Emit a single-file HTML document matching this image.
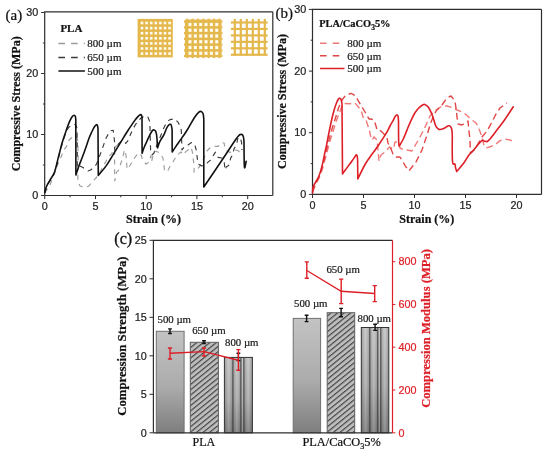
<!DOCTYPE html><html><head><meta charset='utf-8'><style>html,body{margin:0;padding:0;background:#fff}svg{display:block;filter:blur(0.3px)}</style></head><body>
<svg width="550" height="456" viewBox="0 0 550 456">
<rect width="550" height="456" fill="#fff"/>
<path d="M44.7,195.5 L44.7,11.8 L272.8,11.8" fill="none" stroke="#2e2e2e" stroke-width="1.2"/>
<path d="M44.7,195.5 L272.8,195.5" fill="none" stroke="#2e2e2e" stroke-width="1.2"/>
<path d="M272.8,11.8 L272.8,195.5" fill="none" stroke="#2e2e2e" stroke-width="1.2"/>
<line x1="41.1" y1="195.5" x2="44.7" y2="195.5" stroke="#2e2e2e" stroke-width="1"/>
<text stroke="#222" stroke-width="0.22" x="38.3" y="199.2" font-family="Liberation Sans, sans-serif" font-size="10.8" text-anchor="end" fill="#222">0</text>
<line x1="42.900000000000006" y1="165.0" x2="44.7" y2="165.0" stroke="#2e2e2e" stroke-width="1"/>
<line x1="41.1" y1="134.5" x2="44.7" y2="134.5" stroke="#2e2e2e" stroke-width="1"/>
<text stroke="#222" stroke-width="0.22" x="38.3" y="138.2" font-family="Liberation Sans, sans-serif" font-size="10.8" text-anchor="end" fill="#222">10</text>
<line x1="42.900000000000006" y1="104.0" x2="44.7" y2="104.0" stroke="#2e2e2e" stroke-width="1"/>
<line x1="41.1" y1="73.5" x2="44.7" y2="73.5" stroke="#2e2e2e" stroke-width="1"/>
<text stroke="#222" stroke-width="0.22" x="38.3" y="77.2" font-family="Liberation Sans, sans-serif" font-size="10.8" text-anchor="end" fill="#222">20</text>
<line x1="42.900000000000006" y1="43.0" x2="44.7" y2="43.0" stroke="#2e2e2e" stroke-width="1"/>
<line x1="41.1" y1="12.5" x2="44.7" y2="12.5" stroke="#2e2e2e" stroke-width="1"/>
<text stroke="#222" stroke-width="0.22" x="38.3" y="16.2" font-family="Liberation Sans, sans-serif" font-size="10.8" text-anchor="end" fill="#222">30</text>
<line x1="44.7" y1="195.5" x2="44.7" y2="199.1" stroke="#2e2e2e" stroke-width="1"/>
<text stroke="#222" stroke-width="0.22" x="44.7" y="210" font-family="Liberation Sans, sans-serif" font-size="10.8" text-anchor="middle" fill="#222">0</text>
<line x1="70.1" y1="195.5" x2="70.1" y2="197.3" stroke="#2e2e2e" stroke-width="1"/>
<line x1="95.5" y1="195.5" x2="95.5" y2="199.1" stroke="#2e2e2e" stroke-width="1"/>
<text stroke="#222" stroke-width="0.22" x="95.5" y="210" font-family="Liberation Sans, sans-serif" font-size="10.8" text-anchor="middle" fill="#222">5</text>
<line x1="120.8" y1="195.5" x2="120.8" y2="197.3" stroke="#2e2e2e" stroke-width="1"/>
<line x1="146.2" y1="195.5" x2="146.2" y2="199.1" stroke="#2e2e2e" stroke-width="1"/>
<text stroke="#222" stroke-width="0.22" x="146.2" y="210" font-family="Liberation Sans, sans-serif" font-size="10.8" text-anchor="middle" fill="#222">10</text>
<line x1="171.6" y1="195.5" x2="171.6" y2="197.3" stroke="#2e2e2e" stroke-width="1"/>
<line x1="196.9" y1="195.5" x2="196.9" y2="199.1" stroke="#2e2e2e" stroke-width="1"/>
<text stroke="#222" stroke-width="0.22" x="196.9" y="210" font-family="Liberation Sans, sans-serif" font-size="10.8" text-anchor="middle" fill="#222">15</text>
<line x1="222.3" y1="195.5" x2="222.3" y2="197.3" stroke="#2e2e2e" stroke-width="1"/>
<line x1="247.7" y1="195.5" x2="247.7" y2="199.1" stroke="#2e2e2e" stroke-width="1"/>
<text stroke="#222" stroke-width="0.22" x="247.7" y="210" font-family="Liberation Sans, sans-serif" font-size="10.8" text-anchor="middle" fill="#222">20</text>
<text stroke="#111" stroke-width="0.22" x="153.5" y="223.4" font-family="Liberation Serif, serif" font-size="12" font-weight="bold" text-anchor="middle" fill="#111">Strain (%)</text>
<text stroke="#111" stroke-width="0.22" transform="translate(20.3,103.8) rotate(-90)" font-family="Liberation Serif, serif" font-size="12" font-weight="bold" text-anchor="middle" fill="#111">Compressive Stress (MPa)</text>
<text stroke="#111" stroke-width="0.22" x="5.5" y="20.4" font-family="Liberation Serif, serif" font-size="15" fill="#111">(a)</text>
<path d="M312.5,194.4 L312.5,9.4 L541.5,9.4" fill="none" stroke="#2e2e2e" stroke-width="1.2"/>
<path d="M312.5,194.4 L541.5,194.4" fill="none" stroke="#2e2e2e" stroke-width="1.2"/>
<path d="M541.5,9.4 L541.5,194.4" fill="none" stroke="#2e2e2e" stroke-width="1.2"/>
<line x1="308.9" y1="194.4" x2="312.5" y2="194.4" stroke="#2e2e2e" stroke-width="1"/>
<text stroke="#222" stroke-width="0.22" x="306.2" y="198.1" font-family="Liberation Sans, sans-serif" font-size="10.8" text-anchor="end" fill="#222">0</text>
<line x1="310.7" y1="163.6" x2="312.5" y2="163.6" stroke="#2e2e2e" stroke-width="1"/>
<line x1="308.9" y1="132.7" x2="312.5" y2="132.7" stroke="#2e2e2e" stroke-width="1"/>
<text stroke="#222" stroke-width="0.22" x="306.2" y="136.4" font-family="Liberation Sans, sans-serif" font-size="10.8" text-anchor="end" fill="#222">10</text>
<line x1="310.7" y1="101.9" x2="312.5" y2="101.9" stroke="#2e2e2e" stroke-width="1"/>
<line x1="308.9" y1="71.1" x2="312.5" y2="71.1" stroke="#2e2e2e" stroke-width="1"/>
<text stroke="#222" stroke-width="0.22" x="306.2" y="74.8" font-family="Liberation Sans, sans-serif" font-size="10.8" text-anchor="end" fill="#222">20</text>
<line x1="310.7" y1="40.2" x2="312.5" y2="40.2" stroke="#2e2e2e" stroke-width="1"/>
<line x1="308.9" y1="9.4" x2="312.5" y2="9.4" stroke="#2e2e2e" stroke-width="1"/>
<text stroke="#222" stroke-width="0.22" x="306.2" y="13.1" font-family="Liberation Sans, sans-serif" font-size="10.8" text-anchor="end" fill="#222">30</text>
<line x1="312.5" y1="194.4" x2="312.5" y2="198.0" stroke="#2e2e2e" stroke-width="1"/>
<text stroke="#222" stroke-width="0.22" x="312.5" y="208.9" font-family="Liberation Sans, sans-serif" font-size="10.8" text-anchor="middle" fill="#222">0</text>
<line x1="363.5" y1="194.4" x2="363.5" y2="198.0" stroke="#2e2e2e" stroke-width="1"/>
<text stroke="#222" stroke-width="0.22" x="363.5" y="208.9" font-family="Liberation Sans, sans-serif" font-size="10.8" text-anchor="middle" fill="#222">5</text>
<line x1="414.5" y1="194.4" x2="414.5" y2="198.0" stroke="#2e2e2e" stroke-width="1"/>
<text stroke="#222" stroke-width="0.22" x="414.5" y="208.9" font-family="Liberation Sans, sans-serif" font-size="10.8" text-anchor="middle" fill="#222">10</text>
<line x1="465.5" y1="194.4" x2="465.5" y2="198.0" stroke="#2e2e2e" stroke-width="1"/>
<text stroke="#222" stroke-width="0.22" x="465.5" y="208.9" font-family="Liberation Sans, sans-serif" font-size="10.8" text-anchor="middle" fill="#222">15</text>
<line x1="516.5" y1="194.4" x2="516.5" y2="198.0" stroke="#2e2e2e" stroke-width="1"/>
<text stroke="#222" stroke-width="0.22" x="516.5" y="208.9" font-family="Liberation Sans, sans-serif" font-size="10.8" text-anchor="middle" fill="#222">20</text>
<text stroke="#111" stroke-width="0.22" x="426.8" y="222.7" font-family="Liberation Serif, serif" font-size="12" font-weight="bold" text-anchor="middle" fill="#111">Strain (%)</text>
<text stroke="#111" stroke-width="0.22" transform="translate(285.5,101.5) rotate(-90)" font-family="Liberation Serif, serif" font-size="12" font-weight="bold" text-anchor="middle" fill="#111">Compressive Stress (MPa)</text>
<text stroke="#111" stroke-width="0.22" x="275.6" y="18.2" font-family="Liberation Serif, serif" font-size="15" fill="#111">(b)</text>
<line x1="58.4" y1="43.4" x2="84.9" y2="43.4" stroke="#9c9c9c" stroke-width="1.5" stroke-dasharray="6.6,6.1"/>
<line x1="58.4" y1="57.5" x2="84.9" y2="57.5" stroke="#3a3a3a" stroke-width="1.5" stroke-dasharray="6.6,6.1"/>
<line x1="58.4" y1="71.0" x2="84.9" y2="71.0" stroke="#111" stroke-width="1.5"/>
<text stroke="#1a1a1a" stroke-width="0.22" x="87.3" y="47.2" font-family="Liberation Serif, serif" font-size="11" fill="#1a1a1a">800 µm</text>
<text stroke="#1a1a1a" stroke-width="0.22" x="87.3" y="61.3" font-family="Liberation Serif, serif" font-size="11" fill="#1a1a1a">650 µm</text>
<text stroke="#1a1a1a" stroke-width="0.22" x="87.3" y="74.8" font-family="Liberation Serif, serif" font-size="11" fill="#1a1a1a">500 µm</text>
<text stroke="#111" stroke-width="0.22" x="60.4" y="31.7" font-family="Liberation Serif, serif" font-size="11" font-weight="bold" fill="#111" textLength="22" lengthAdjust="spacingAndGlyphs">PLA</text>
<line x1="320" y1="43.3" x2="344.5" y2="43.3" stroke="#f07a7a" stroke-width="1.5" stroke-dasharray="6.6,6.1"/>
<line x1="320" y1="55.8" x2="344.5" y2="55.8" stroke="#e04646" stroke-width="1.5" stroke-dasharray="6.6,6.1"/>
<line x1="320" y1="68.5" x2="344.5" y2="68.5" stroke="#dd1f27" stroke-width="1.5"/>
<text stroke="#1a1a1a" stroke-width="0.22" x="347.2" y="47.1" font-family="Liberation Serif, serif" font-size="11" fill="#1a1a1a">800 µm</text>
<text stroke="#1a1a1a" stroke-width="0.22" x="347.2" y="59.6" font-family="Liberation Serif, serif" font-size="11" fill="#1a1a1a">650 µm</text>
<text stroke="#1a1a1a" stroke-width="0.22" x="347.2" y="72.3" font-family="Liberation Serif, serif" font-size="11" fill="#1a1a1a">500 µm</text>
<text stroke="#111" stroke-width="0.22" x="319.2" y="27.3" font-family="Liberation Serif, serif" font-size="10.4" font-weight="bold" fill="#111">PLA/CaCO<tspan font-size="7.5" dy="2.5">3</tspan><tspan dy="-2.5">5%</tspan></text>
<rect x="137.6" y="18.9" width="35.2" height="38.5" fill="#e4b84c"/>
<rect x="140.70" y="21.70" width="2.6" height="2.6" fill="#fffcf2"/>
<rect x="140.70" y="26.80" width="2.6" height="2.6" fill="#fffcf2"/>
<rect x="140.70" y="31.90" width="2.6" height="2.6" fill="#fffcf2"/>
<rect x="140.70" y="37.00" width="2.6" height="2.6" fill="#fffcf2"/>
<rect x="140.70" y="42.10" width="2.6" height="2.6" fill="#fffcf2"/>
<rect x="140.70" y="47.20" width="2.6" height="2.6" fill="#fffcf2"/>
<rect x="140.70" y="52.30" width="2.6" height="2.6" fill="#fffcf2"/>
<rect x="145.30" y="21.70" width="2.6" height="2.6" fill="#fffcf2"/>
<rect x="145.30" y="26.80" width="2.6" height="2.6" fill="#fffcf2"/>
<rect x="145.30" y="31.90" width="2.6" height="2.6" fill="#fffcf2"/>
<rect x="145.30" y="37.00" width="2.6" height="2.6" fill="#fffcf2"/>
<rect x="145.30" y="42.10" width="2.6" height="2.6" fill="#fffcf2"/>
<rect x="145.30" y="47.20" width="2.6" height="2.6" fill="#fffcf2"/>
<rect x="145.30" y="52.30" width="2.6" height="2.6" fill="#fffcf2"/>
<rect x="149.90" y="21.70" width="2.6" height="2.6" fill="#fffcf2"/>
<rect x="149.90" y="26.80" width="2.6" height="2.6" fill="#fffcf2"/>
<rect x="149.90" y="31.90" width="2.6" height="2.6" fill="#fffcf2"/>
<rect x="149.90" y="37.00" width="2.6" height="2.6" fill="#fffcf2"/>
<rect x="149.90" y="42.10" width="2.6" height="2.6" fill="#fffcf2"/>
<rect x="149.90" y="47.20" width="2.6" height="2.6" fill="#fffcf2"/>
<rect x="149.90" y="52.30" width="2.6" height="2.6" fill="#fffcf2"/>
<rect x="154.50" y="21.70" width="2.6" height="2.6" fill="#fffcf2"/>
<rect x="154.50" y="26.80" width="2.6" height="2.6" fill="#fffcf2"/>
<rect x="154.50" y="31.90" width="2.6" height="2.6" fill="#fffcf2"/>
<rect x="154.50" y="37.00" width="2.6" height="2.6" fill="#fffcf2"/>
<rect x="154.50" y="42.10" width="2.6" height="2.6" fill="#fffcf2"/>
<rect x="154.50" y="47.20" width="2.6" height="2.6" fill="#fffcf2"/>
<rect x="154.50" y="52.30" width="2.6" height="2.6" fill="#fffcf2"/>
<rect x="159.10" y="21.70" width="2.6" height="2.6" fill="#fffcf2"/>
<rect x="159.10" y="26.80" width="2.6" height="2.6" fill="#fffcf2"/>
<rect x="159.10" y="31.90" width="2.6" height="2.6" fill="#fffcf2"/>
<rect x="159.10" y="37.00" width="2.6" height="2.6" fill="#fffcf2"/>
<rect x="159.10" y="42.10" width="2.6" height="2.6" fill="#fffcf2"/>
<rect x="159.10" y="47.20" width="2.6" height="2.6" fill="#fffcf2"/>
<rect x="159.10" y="52.30" width="2.6" height="2.6" fill="#fffcf2"/>
<rect x="163.70" y="21.70" width="2.6" height="2.6" fill="#fffcf2"/>
<rect x="163.70" y="26.80" width="2.6" height="2.6" fill="#fffcf2"/>
<rect x="163.70" y="31.90" width="2.6" height="2.6" fill="#fffcf2"/>
<rect x="163.70" y="37.00" width="2.6" height="2.6" fill="#fffcf2"/>
<rect x="163.70" y="42.10" width="2.6" height="2.6" fill="#fffcf2"/>
<rect x="163.70" y="47.20" width="2.6" height="2.6" fill="#fffcf2"/>
<rect x="163.70" y="52.30" width="2.6" height="2.6" fill="#fffcf2"/>
<rect x="168.30" y="21.70" width="2.6" height="2.6" fill="#fffcf2"/>
<rect x="168.30" y="26.80" width="2.6" height="2.6" fill="#fffcf2"/>
<rect x="168.30" y="31.90" width="2.6" height="2.6" fill="#fffcf2"/>
<rect x="168.30" y="37.00" width="2.6" height="2.6" fill="#fffcf2"/>
<rect x="168.30" y="42.10" width="2.6" height="2.6" fill="#fffcf2"/>
<rect x="168.30" y="47.20" width="2.6" height="2.6" fill="#fffcf2"/>
<rect x="168.30" y="52.30" width="2.6" height="2.6" fill="#fffcf2"/>
<rect x="184.9" y="19.5" width="36.7" height="37.7" fill="#e4b84c"/>
<rect x="188.50" y="22.90" width="3.0" height="3.2" fill="#fffcf2"/>
<rect x="188.50" y="28.65" width="3.0" height="3.2" fill="#fffcf2"/>
<rect x="188.50" y="34.40" width="3.0" height="3.2" fill="#fffcf2"/>
<rect x="188.50" y="40.15" width="3.0" height="3.2" fill="#fffcf2"/>
<rect x="188.50" y="45.90" width="3.0" height="3.2" fill="#fffcf2"/>
<rect x="188.50" y="51.65" width="3.0" height="3.2" fill="#fffcf2"/>
<rect x="193.85" y="22.90" width="3.0" height="3.2" fill="#fffcf2"/>
<rect x="193.85" y="28.65" width="3.0" height="3.2" fill="#fffcf2"/>
<rect x="193.85" y="34.40" width="3.0" height="3.2" fill="#fffcf2"/>
<rect x="193.85" y="40.15" width="3.0" height="3.2" fill="#fffcf2"/>
<rect x="193.85" y="45.90" width="3.0" height="3.2" fill="#fffcf2"/>
<rect x="193.85" y="51.65" width="3.0" height="3.2" fill="#fffcf2"/>
<rect x="199.20" y="22.90" width="3.0" height="3.2" fill="#fffcf2"/>
<rect x="199.20" y="28.65" width="3.0" height="3.2" fill="#fffcf2"/>
<rect x="199.20" y="34.40" width="3.0" height="3.2" fill="#fffcf2"/>
<rect x="199.20" y="40.15" width="3.0" height="3.2" fill="#fffcf2"/>
<rect x="199.20" y="45.90" width="3.0" height="3.2" fill="#fffcf2"/>
<rect x="199.20" y="51.65" width="3.0" height="3.2" fill="#fffcf2"/>
<rect x="204.55" y="22.90" width="3.0" height="3.2" fill="#fffcf2"/>
<rect x="204.55" y="28.65" width="3.0" height="3.2" fill="#fffcf2"/>
<rect x="204.55" y="34.40" width="3.0" height="3.2" fill="#fffcf2"/>
<rect x="204.55" y="40.15" width="3.0" height="3.2" fill="#fffcf2"/>
<rect x="204.55" y="45.90" width="3.0" height="3.2" fill="#fffcf2"/>
<rect x="204.55" y="51.65" width="3.0" height="3.2" fill="#fffcf2"/>
<rect x="209.90" y="22.90" width="3.0" height="3.2" fill="#fffcf2"/>
<rect x="209.90" y="28.65" width="3.0" height="3.2" fill="#fffcf2"/>
<rect x="209.90" y="34.40" width="3.0" height="3.2" fill="#fffcf2"/>
<rect x="209.90" y="40.15" width="3.0" height="3.2" fill="#fffcf2"/>
<rect x="209.90" y="45.90" width="3.0" height="3.2" fill="#fffcf2"/>
<rect x="209.90" y="51.65" width="3.0" height="3.2" fill="#fffcf2"/>
<rect x="215.25" y="22.90" width="3.0" height="3.2" fill="#fffcf2"/>
<rect x="215.25" y="28.65" width="3.0" height="3.2" fill="#fffcf2"/>
<rect x="215.25" y="34.40" width="3.0" height="3.2" fill="#fffcf2"/>
<rect x="215.25" y="40.15" width="3.0" height="3.2" fill="#fffcf2"/>
<rect x="215.25" y="45.90" width="3.0" height="3.2" fill="#fffcf2"/>
<rect x="215.25" y="51.65" width="3.0" height="3.2" fill="#fffcf2"/>
<rect x="186.22" y="18.6" width="2.2" height="1.2" fill="#e4b84c"/>
<rect x="186.22" y="56.9" width="2.2" height="1.2" fill="#e4b84c"/>
<rect x="191.58" y="18.6" width="2.2" height="1.2" fill="#e4b84c"/>
<rect x="191.58" y="56.9" width="2.2" height="1.2" fill="#e4b84c"/>
<rect x="196.93" y="18.6" width="2.2" height="1.2" fill="#e4b84c"/>
<rect x="196.93" y="56.9" width="2.2" height="1.2" fill="#e4b84c"/>
<rect x="202.28" y="18.6" width="2.2" height="1.2" fill="#e4b84c"/>
<rect x="202.28" y="56.9" width="2.2" height="1.2" fill="#e4b84c"/>
<rect x="207.62" y="18.6" width="2.2" height="1.2" fill="#e4b84c"/>
<rect x="207.62" y="56.9" width="2.2" height="1.2" fill="#e4b84c"/>
<rect x="212.97" y="18.6" width="2.2" height="1.2" fill="#e4b84c"/>
<rect x="212.97" y="56.9" width="2.2" height="1.2" fill="#e4b84c"/>
<rect x="218.33" y="18.6" width="2.2" height="1.2" fill="#e4b84c"/>
<rect x="218.33" y="56.9" width="2.2" height="1.2" fill="#e4b84c"/>
<rect x="184.0" y="20.52" width="1.2" height="2.2" fill="#e4b84c"/>
<rect x="221.3" y="20.52" width="1.2" height="2.2" fill="#e4b84c"/>
<rect x="184.0" y="26.27" width="1.2" height="2.2" fill="#e4b84c"/>
<rect x="221.3" y="26.27" width="1.2" height="2.2" fill="#e4b84c"/>
<rect x="184.0" y="32.02" width="1.2" height="2.2" fill="#e4b84c"/>
<rect x="221.3" y="32.02" width="1.2" height="2.2" fill="#e4b84c"/>
<rect x="184.0" y="37.77" width="1.2" height="2.2" fill="#e4b84c"/>
<rect x="221.3" y="37.77" width="1.2" height="2.2" fill="#e4b84c"/>
<rect x="184.0" y="43.52" width="1.2" height="2.2" fill="#e4b84c"/>
<rect x="221.3" y="43.52" width="1.2" height="2.2" fill="#e4b84c"/>
<rect x="184.0" y="49.27" width="1.2" height="2.2" fill="#e4b84c"/>
<rect x="221.3" y="49.27" width="1.2" height="2.2" fill="#e4b84c"/>
<rect x="184.0" y="55.02" width="1.2" height="2.2" fill="#e4b84c"/>
<rect x="221.3" y="55.02" width="1.2" height="2.2" fill="#e4b84c"/>
<rect x="233.70" y="18.9" width="2.2" height="36.7" fill="#e4b84c"/>
<rect x="239.70" y="18.9" width="2.2" height="36.7" fill="#e4b84c"/>
<rect x="245.70" y="18.9" width="2.2" height="36.7" fill="#e4b84c"/>
<rect x="251.70" y="18.9" width="2.2" height="36.7" fill="#e4b84c"/>
<rect x="257.70" y="18.9" width="2.2" height="36.7" fill="#e4b84c"/>
<rect x="263.70" y="18.9" width="2.2" height="36.7" fill="#e4b84c"/>
<rect x="230.9" y="21.40" width="36.7" height="2.2" fill="#e4b84c"/>
<rect x="230.9" y="27.85" width="36.7" height="2.2" fill="#e4b84c"/>
<rect x="230.9" y="34.30" width="36.7" height="2.2" fill="#e4b84c"/>
<rect x="230.9" y="40.75" width="36.7" height="2.2" fill="#e4b84c"/>
<rect x="230.9" y="47.20" width="36.7" height="2.2" fill="#e4b84c"/>
<rect x="230.9" y="53.65" width="36.7" height="2.2" fill="#e4b84c"/>
<defs><linearGradient id="gv" x1="0" y1="0" x2="0" y2="1"><stop offset="0" stop-color="#c3c3c3"/><stop offset="0.55" stop-color="#ababab"/><stop offset="1" stop-color="#7e7e7e"/></linearGradient><linearGradient id="gh" x1="0" y1="0" x2="1" y2="0"><stop offset="0" stop-color="#000" stop-opacity="0.18"/><stop offset="0.5" stop-color="#fff" stop-opacity="0.15"/><stop offset="1" stop-color="#000" stop-opacity="0.18"/></linearGradient><pattern id="hatch" patternUnits="userSpaceOnUse" width="20" height="4.1" patternTransform="translate(190,400) rotate(-39)"><rect width="20" height="4.1" fill="#bdbdbd"/><line x1="0" y1="0.6" x2="20" y2="0.6" stroke="#3c3c3c" stroke-width="1.1"/></pattern></defs>
<rect x="156.3" y="331.3" width="27.8" height="101.5" fill="url(#gv)" stroke="#707070" stroke-width="1"/>
<rect x="190.3" y="342.3" width="28.1" height="90.5" fill="url(#hatch)" stroke="#606060" stroke-width="1"/>
<rect x="224.4" y="357.4" width="28.0" height="75.4" fill="url(#gv)"/>
<rect x="224.4" y="357.4" width="8.5" height="75.4" fill="url(#gh)"/>
<rect x="232.9" y="357.4" width="8.0" height="75.4" fill="url(#gh)"/>
<rect x="240.9" y="357.4" width="3.0" height="75.4" fill="url(#gh)"/>
<rect x="243.9" y="357.4" width="8.5" height="75.4" fill="url(#gh)"/>
<line x1="232.9" y1="357.4" x2="232.9" y2="432.8" stroke="#3a3a3a" stroke-width="0.9"/>
<line x1="240.9" y1="357.4" x2="240.9" y2="432.8" stroke="#3a3a3a" stroke-width="0.9"/>
<line x1="243.9" y1="357.4" x2="243.9" y2="432.8" stroke="#3a3a3a" stroke-width="0.9"/>
<rect x="224.4" y="357.4" width="28.0" height="75.4" fill="none" stroke="#333" stroke-width="1"/>
<rect x="293.2" y="318.4" width="27.4" height="114.4" fill="url(#gv)" stroke="#707070" stroke-width="1"/>
<rect x="327.2" y="312.7" width="27.5" height="120.1" fill="url(#hatch)" stroke="#606060" stroke-width="1"/>
<rect x="361.3" y="327.5" width="27.5" height="105.3" fill="url(#gv)"/>
<rect x="361.3" y="327.5" width="8.5" height="105.3" fill="url(#gh)"/>
<rect x="369.8" y="327.5" width="8.0" height="105.3" fill="url(#gh)"/>
<rect x="377.8" y="327.5" width="3.0" height="105.3" fill="url(#gh)"/>
<rect x="380.8" y="327.5" width="8.0" height="105.3" fill="url(#gh)"/>
<line x1="369.8" y1="327.5" x2="369.8" y2="432.8" stroke="#3a3a3a" stroke-width="0.9"/>
<line x1="377.8" y1="327.5" x2="377.8" y2="432.8" stroke="#3a3a3a" stroke-width="0.9"/>
<line x1="380.8" y1="327.5" x2="380.8" y2="432.8" stroke="#3a3a3a" stroke-width="0.9"/>
<rect x="361.3" y="327.5" width="27.5" height="105.3" fill="none" stroke="#333" stroke-width="1"/>
<path d="M170,328.9 L170,333.5 M168.1,328.9 L171.9,328.9 M168.1,333.5 L171.9,333.5" stroke="#111" stroke-width="1.4" fill="none"/>
<path d="M204,340.8 L204,343.5 M202.1,340.8 L205.9,340.8 M202.1,343.5 L205.9,343.5" stroke="#111" stroke-width="1.4" fill="none"/>
<path d="M238.4,353.3 L238.4,360.6 M236.5,353.3 L240.3,353.3 M236.5,360.6 L240.3,360.6" stroke="#111" stroke-width="1.4" fill="none"/>
<path d="M306.6,315.3 L306.6,321.6 M304.70000000000005,315.3 L308.5,315.3 M304.70000000000005,321.6 L308.5,321.6" stroke="#111" stroke-width="1.4" fill="none"/>
<path d="M341.1,308.4 L341.1,316.8 M339.20000000000005,308.4 L343.0,308.4 M339.20000000000005,316.8 L343.0,316.8" stroke="#111" stroke-width="1.4" fill="none"/>
<path d="M375.1,324.3 L375.1,330.4 M373.20000000000005,324.3 L377.0,324.3 M373.20000000000005,330.4 L377.0,330.4" stroke="#111" stroke-width="1.4" fill="none"/>
<polyline points="170.0,353.3 204.0,351.6 238.4,360.2" fill="none" stroke="#dd1f27" stroke-width="1.4"/>
<polyline points="306.8,270.5 341.2,291.3 374.7,293.5" fill="none" stroke="#dd1f27" stroke-width="1.4"/>
<path d="M170,348 L170,359 M167.9,348 L172.1,348 M167.9,359 L172.1,359" stroke="#dd1f27" stroke-width="1.4" fill="none"/>
<path d="M204,348 L204,356 M201.9,348 L206.1,348 M201.9,356 L206.1,356" stroke="#dd1f27" stroke-width="1.4" fill="none"/>
<path d="M238.4,349.6 L238.4,370.3 M236.3,349.6 L240.5,349.6 M236.3,370.3 L240.5,370.3" stroke="#dd1f27" stroke-width="1.4" fill="none"/>
<path d="M306.8,261.9 L306.8,278.2 M304.7,261.9 L308.90000000000003,261.9 M304.7,278.2 L308.90000000000003,278.2" stroke="#dd1f27" stroke-width="1.4" fill="none"/>
<path d="M341.2,279.1 L341.2,303.6 M339.09999999999997,279.1 L343.3,279.1 M339.09999999999997,303.6 L343.3,303.6" stroke="#dd1f27" stroke-width="1.4" fill="none"/>
<path d="M374.7,285.6 L374.7,301.6 M372.59999999999997,285.6 L376.8,285.6 M372.59999999999997,301.6 L376.8,301.6" stroke="#dd1f27" stroke-width="1.4" fill="none"/>
<path d="M153.4,432.8 L153.4,240.3 L392.5,240.3" fill="none" stroke="#2e2e2e" stroke-width="1.2"/>
<line x1="153.4" y1="432.8" x2="392.5" y2="432.8" stroke="#2e2e2e" stroke-width="1.3"/>
<line x1="392.5" y1="240.3" x2="392.5" y2="432.8" stroke="#dd1f27" stroke-width="1.2"/>
<line x1="149.5" y1="432.8" x2="153.4" y2="432.8" stroke="#2e2e2e" stroke-width="1"/>
<text stroke="#222" stroke-width="0.22" x="146.8" y="436.5" font-family="Liberation Sans, sans-serif" font-size="10.8" text-anchor="end" fill="#222">0</text>
<line x1="149.5" y1="394.3" x2="153.4" y2="394.3" stroke="#2e2e2e" stroke-width="1"/>
<text stroke="#222" stroke-width="0.22" x="146.8" y="398.0" font-family="Liberation Sans, sans-serif" font-size="10.8" text-anchor="end" fill="#222">5</text>
<line x1="149.5" y1="355.8" x2="153.4" y2="355.8" stroke="#2e2e2e" stroke-width="1"/>
<text stroke="#222" stroke-width="0.22" x="146.8" y="359.5" font-family="Liberation Sans, sans-serif" font-size="10.8" text-anchor="end" fill="#222">10</text>
<line x1="149.5" y1="317.3" x2="153.4" y2="317.3" stroke="#2e2e2e" stroke-width="1"/>
<text stroke="#222" stroke-width="0.22" x="146.8" y="321.0" font-family="Liberation Sans, sans-serif" font-size="10.8" text-anchor="end" fill="#222">15</text>
<line x1="149.5" y1="278.8" x2="153.4" y2="278.8" stroke="#2e2e2e" stroke-width="1"/>
<text stroke="#222" stroke-width="0.22" x="146.8" y="282.5" font-family="Liberation Sans, sans-serif" font-size="10.8" text-anchor="end" fill="#222">20</text>
<line x1="149.5" y1="240.3" x2="153.4" y2="240.3" stroke="#2e2e2e" stroke-width="1"/>
<text stroke="#222" stroke-width="0.22" x="146.8" y="244.0" font-family="Liberation Sans, sans-serif" font-size="10.8" text-anchor="end" fill="#222">25</text>
<line x1="392.5" y1="432.8" x2="395.3" y2="432.8" stroke="#dd1f27" stroke-width="1"/>
<text stroke="#dd1f27" stroke-width="0.22" x="398.6" y="436.5" font-family="Liberation Sans, sans-serif" font-size="10.8" fill="#dd1f27">0</text>
<line x1="392.5" y1="390.0" x2="395.3" y2="390.0" stroke="#dd1f27" stroke-width="1"/>
<text stroke="#dd1f27" stroke-width="0.22" x="398.6" y="393.7" font-family="Liberation Sans, sans-serif" font-size="10.8" fill="#dd1f27">200</text>
<line x1="392.5" y1="347.2" x2="395.3" y2="347.2" stroke="#dd1f27" stroke-width="1"/>
<text stroke="#dd1f27" stroke-width="0.22" x="398.6" y="350.9" font-family="Liberation Sans, sans-serif" font-size="10.8" fill="#dd1f27">400</text>
<line x1="392.5" y1="304.5" x2="395.3" y2="304.5" stroke="#dd1f27" stroke-width="1"/>
<text stroke="#dd1f27" stroke-width="0.22" x="398.6" y="308.2" font-family="Liberation Sans, sans-serif" font-size="10.8" fill="#dd1f27">600</text>
<line x1="392.5" y1="261.7" x2="395.3" y2="261.7" stroke="#dd1f27" stroke-width="1"/>
<text stroke="#dd1f27" stroke-width="0.22" x="398.6" y="265.4" font-family="Liberation Sans, sans-serif" font-size="10.8" fill="#dd1f27">800</text>
<text stroke="#111" stroke-width="0.22" transform="translate(126.4,336.1) rotate(-90)" font-family="Liberation Serif, serif" font-size="12.6" font-weight="bold" text-anchor="middle" fill="#111" textLength="159.4" lengthAdjust="spacingAndGlyphs">Compression Strength (MPa)</text>
<text stroke="#dd1f27" stroke-width="0.22" transform="translate(430.2,328.4) rotate(-90)" font-family="Liberation Serif, serif" font-size="12.6" font-weight="bold" text-anchor="middle" fill="#dd1f27" textLength="158.8" lengthAdjust="spacingAndGlyphs">Compression Modulus (MPa)</text>
<text x="114.3" y="243.5" font-family="Liberation Serif, serif" font-size="16" fill="#111" stroke="#111" stroke-width="0.35" textLength="17.8" lengthAdjust="spacingAndGlyphs">(c)</text>
<text stroke="#1a1a1a" stroke-width="0.22" x="157.5" y="322.5" font-family="Liberation Serif, serif" font-size="10.8" fill="#1a1a1a">500 µm</text>
<text stroke="#1a1a1a" stroke-width="0.22" x="192.2" y="333.8" font-family="Liberation Serif, serif" font-size="10.8" fill="#1a1a1a">650 µm</text>
<text stroke="#1a1a1a" stroke-width="0.22" x="225" y="345.7" font-family="Liberation Serif, serif" font-size="10.8" fill="#1a1a1a">800 µm</text>
<text stroke="#1a1a1a" stroke-width="0.22" x="294" y="307.3" font-family="Liberation Serif, serif" font-size="10.8" fill="#1a1a1a">500 µm</text>
<text stroke="#1a1a1a" stroke-width="0.22" x="326.4" y="272.5" font-family="Liberation Serif, serif" font-size="10.8" fill="#1a1a1a">650 µm</text>
<text stroke="#1a1a1a" stroke-width="0.22" x="357.5" y="321.6" font-family="Liberation Serif, serif" font-size="10.8" fill="#1a1a1a">800 µm</text>
<text stroke="#111" stroke-width="0.22" x="192.5" y="445.7" font-family="Liberation Serif, serif" font-size="12" fill="#111">PLA</text>
<text stroke="#111" stroke-width="0.22" x="302.4" y="446" font-family="Liberation Serif, serif" font-size="12.4" fill="#111">PLA/CaCO<tspan font-size="8.2" dy="3">3</tspan><tspan dy="-3">5%</tspan></text>
<polyline points="44.8,193.0 50.0,185.0 54.7,172.5 56.0,168.7 58.6,162.3 60.0,158.5 61.4,156.5 63.4,150.6 66.4,146.6 69.3,139.7 72.0,137.5 74.3,136.2 76.8,137.0 77.8,141.0 78.2,156.5 77.8,181.0 80.0,186.0 84.4,187.3 88.7,186.2 92.0,182.0 96.4,177.5 100.0,172.0 105.0,163.0 108.6,156.6 111.9,153.3 113.9,148.0 117.8,144.7" fill="none" stroke="#9c9c9c" stroke-width="1.15" stroke-dasharray="5,4.6" stroke-linejoin="round"/>
<polyline points="114.6,150.0 114.6,168.0 114.8,181.0 116.5,172.4 118.5,170.4 121.8,160.5 123.1,155.9 124.4,150.0 126.0,155.0 126.7,163.8 127.0,169.1 129.7,165.8 132.3,161.8 135.3,156.8 138.4,153.0 141.5,155.3 142.2,159.1 146.1,164.1 149.2,161.8 150.8,155.7 151.5,161.8 153.0,156.0 154.6,151.0 158.0,152.0 161.0,155.0 163.0,158.0 163.8,164.1 164.6,171.0 167.6,171.0 170.7,164.9 173.0,161.8 176.6,156.0 179.2,153.4 181.0,152.0 183.4,154.7 185.5,151.9 188.0,150.0 191.2,147.6 192.7,153.3 193.4,160.4 194.1,166.1 194.0,172.0 196.2,170.4 200.0,166.0 204.0,158.0 207.0,151.0 209.9,148.0 214.3,146.4 218.2,146.4 222.0,142.6 224.2,143.1 224.8,148.0 227.0,151.0 230.2,152.4 233.0,151.3 236.0,150.0 238.5,150.8 241.2,154.6" fill="none" stroke="#9c9c9c" stroke-width="1.15" stroke-dasharray="5,4.6" stroke-linejoin="round"/>
<polyline points="44.8,193.0 46.8,186.5 49.9,180.8 53.8,174.4 55.7,169.3 58.2,159.1 60.8,148.9 63.3,140.0 66.2,131.5 68.8,127.3 73.3,124.4 75.6,124.5 77.0,128.0 77.3,150.0 77.3,168.0 80.0,166.0 83.0,167.6 88.0,171.0 91.0,169.8 96.4,164.4 101.8,150.2 106.0,138.2 110.0,130.9 113.2,130.3 114.6,142.1 114.7,150.0" fill="none" stroke="#3a3a3a" stroke-width="1.15" stroke-dasharray="5,4.6" stroke-linejoin="round"/>
<polyline points="117.8,144.7 121.0,141.5 123.8,140.8 125.7,143.4 128.4,140.1 130.3,134.9 132.3,130.3 135.4,124.7 138.4,120.8 141.0,118.0 144.4,116.4 147.6,116.4 149.5,121.0 150.0,127.3 150.3,140.0 150.6,150.0 152.0,155.0 154.0,153.0 156.5,146.0 159.2,139.6 160.7,135.7 163.8,128.0 165.3,125.0 168.0,121.0 170.0,119.6 174.6,118.8 178.4,122.7 179.9,126.5 181.3,130.0 181.6,140.0 182.0,150.0 184.1,147.0 188.0,145.0 191.5,142.5 194.5,144.0 196.0,149.0 197.0,156.0 198.0,164.0 201.9,166.1 207.2,162.9 210.5,160.1 213.8,154.6 215.5,152.2 218.2,157.4 222.0,158.0 224.2,162.0 225.0,170.0 226.4,166.7 228.6,165.6 230.8,157.9 232.4,155.2 234.1,148.6 236.3,145.3 237.9,138.2 240.1,137.1 241.5,142.0 242.0,150.0" fill="none" stroke="#3a3a3a" stroke-width="1.15" stroke-dasharray="5,4.6" stroke-linejoin="round"/>
<polyline points="312.5,192.0 316.0,184.0 320.0,176.0 323.0,167.0 325.5,158.0 327.8,149.0 330.0,141.0 333.5,130.0 337.0,119.0 340.5,110.0 343.0,103.5 349.6,103.7 355.0,103.0 361.0,110.0 363.0,117.0 366.0,120.0 368.0,126.0 369.5,131.0 371.0,138.0 372.0,140.0 374.0,137.0 377.0,140.0 378.0,150.0 379.0,161.0 381.0,155.0 385.0,152.0 389.5,147.0 393.5,149.0 395.0,142.0 398.0,142.0 400.0,148.0 404.0,150.0 407.0,150.0 412.0,151.0 416.0,144.0 419.0,139.0 421.0,135.0 424.0,129.5 430.0,116.0 436.0,110.0 442.0,106.0 447.0,106.0 452.0,107.5 457.0,110.0 460.0,111.0 466.0,114.6 471.0,119.3 476.0,123.0 478.0,126.0 481.6,136.0 484.0,145.0 486.0,148.0 491.0,146.5 496.0,144.0 500.0,140.6 505.0,139.0 510.0,140.0 513.5,141.7" fill="none" stroke="#f07a7a" stroke-width="1.4" stroke-dasharray="6.7,3.9" stroke-linejoin="round"/>
<polyline points="312.5,192.0 315.0,184.0 318.8,177.0 322.0,168.0 324.0,160.0 326.0,152.0 328.2,143.0 331.0,132.0 335.3,118.5 338.5,108.0 342.0,100.0 345.7,95.4 351.0,93.4 355.7,95.7 358.0,100.4 362.0,107.0 365.0,112.0 369.0,119.0 371.0,119.0 374.0,120.0 376.0,126.0 377.0,130.0 381.0,131.0 384.0,134.0 387.0,138.0 388.0,143.0 391.0,149.0 393.0,154.0 396.0,157.0 400.0,157.0 403.0,162.0 406.0,167.0 409.0,171.0 412.0,167.0 416.0,162.0 422.0,150.0 427.0,135.0 431.0,122.0 436.0,111.0 442.0,105.0 447.0,98.0 451.0,96.0 455.0,101.0 456.5,112.0 457.0,117.0 458.0,124.0 462.0,125.0 468.0,121.0 469.0,131.0 470.0,141.0 470.4,153.0 475.0,149.0 482.0,137.0 487.0,131.0 492.0,122.0 496.0,114.0 500.0,108.0 507.0,103.0" fill="none" stroke="#e04646" stroke-width="1.4" stroke-dasharray="6.7,3.9" stroke-linejoin="round"/>
<path d="M44.8,192.5 C45.1,191.3 45.5,188.8 46.5,186.5 C47.5,184.2 48.2,183.2 49.6,180.8 C51.0,178.4 52.3,176.7 53.5,174.4 C54.7,172.1 54.5,172.4 55.4,169.3 C56.3,166.2 56.9,163.2 57.9,159.1 C58.9,155.0 59.5,152.7 60.5,148.9 C61.5,145.1 61.8,143.7 63.0,140.0 C64.2,136.3 65.0,133.9 66.3,130.2 C67.6,126.5 68.4,124.1 69.6,121.4 C70.8,118.7 71.4,117.7 72.3,116.5 C73.2,115.3 73.6,115.2 74.2,115.2 C74.8,115.2 75.0,115.4 75.3,116.3 C75.6,117.2 75.7,118.9 75.8,119.5 L75.8,119.5 L75.9,175.0 L75.9,175.0 C76.5,173.2 77.7,169.4 78.9,166.0 C80.1,162.6 80.6,161.6 82.0,158.0 C83.4,154.4 84.2,152.1 85.7,148.0 C87.2,143.9 88.0,140.8 89.3,137.5 C90.6,134.2 91.0,133.6 92.0,131.5 C93.0,129.4 93.4,128.4 94.3,127.0 C95.2,125.6 95.8,124.9 96.5,124.7 C97.2,124.5 97.3,125.1 97.6,126.0 C97.9,126.9 97.9,128.4 98.0,129.0 L98.0,129.0 L98.3,175.5 L98.3,175.5 C99.9,173.5 103.2,170.1 106.5,165.4 C109.8,160.7 111.3,157.6 114.8,151.9 C118.3,146.2 121.3,141.2 124.0,136.8 C126.7,132.4 126.2,133.2 128.3,130.0 C130.4,126.8 132.6,123.4 134.6,120.6 C136.6,117.8 137.3,117.2 138.5,116.0 C139.7,114.8 140.2,114.7 140.8,114.6 C141.4,114.5 141.5,114.9 141.7,115.6 C141.9,116.3 141.9,117.5 142.0,118.0 L142.0,118.0 L142.1,153.3 L142.1,153.3 C142.5,152.2 143.0,150.3 144.0,147.7 C145.0,145.1 146.0,143.2 147.3,140.4 C148.6,137.6 149.5,135.5 150.6,133.5 C151.7,131.5 151.9,131.1 152.6,130.4 C153.3,129.7 153.6,129.7 154.2,129.9 C154.8,130.1 155.1,130.2 155.6,131.2 C156.1,132.2 156.3,132.9 156.6,135.0 C156.9,137.1 157.0,139.1 157.2,141.7 C157.4,144.3 157.4,146.7 157.5,148.0 L157.5,148.0 C158.0,146.7 158.6,144.3 159.8,141.7 C161.0,139.1 162.4,137.8 163.7,135.2 C165.0,132.6 165.5,130.5 166.5,128.5 C167.5,126.5 167.8,126.1 168.5,125.3 C169.2,124.5 169.5,124.4 170.0,124.3 C170.5,124.2 170.8,124.1 171.2,125.0 C171.6,125.9 171.8,128.2 172.0,129.0 L172.1,129.0 L172.2,152.0 L172.2,152.0 C173.2,150.6 175.6,146.9 177.0,144.8 C178.4,142.7 177.3,144.4 179.3,141.5 C181.3,138.6 183.9,135.3 186.9,130.5 C189.9,125.7 192.1,121.2 194.5,117.5 C196.9,113.8 197.6,113.4 198.9,112.2 C200.2,111.0 200.3,111.2 201.1,111.5 C201.9,111.8 202.5,112.2 203.0,113.5 C203.5,114.8 203.5,115.9 203.7,118.0 C203.9,120.1 203.8,122.8 203.8,124.0 L203.8,124.0 L203.8,187.0 L203.8,187.0 C207.9,181.0 217.7,166.5 224.1,157.0 C230.5,147.5 232.8,143.7 235.7,139.5 C238.6,135.3 237.6,137.0 238.5,136.0 C239.4,135.0 239.6,134.9 240.3,134.6 C241.0,134.3 241.6,134.1 242.2,134.6 C242.8,135.1 243.0,135.4 243.4,136.9 C243.8,138.4 243.9,141.0 244.0,142.0 L244.0,142.0 C244.1,147.0 244.0,162.9 244.4,166.8 C244.8,170.7 245.8,162.4 246.2,161.3 " fill="none" stroke="#111" stroke-width="1.6" stroke-linejoin="round" stroke-linecap="round"/>
<path d="M312.5,193.0 C312.6,191.8 312.5,189.1 313.1,187.0 C313.7,184.9 314.4,184.4 315.5,182.4 C316.6,180.4 317.5,179.5 318.6,176.9 C319.7,174.3 320.2,172.5 321.1,169.5 C322.0,166.5 322.2,165.3 322.9,162.1 C323.6,158.9 324.0,156.9 324.7,153.5 C325.4,150.1 325.8,149.0 326.6,144.9 C327.4,140.8 327.9,137.8 328.9,132.9 C329.9,128.0 330.5,125.0 331.5,120.5 C332.5,116.0 333.0,114.0 334.0,110.5 C335.0,107.0 335.6,105.2 336.5,103.0 C337.4,100.8 337.7,100.2 338.3,99.3 C338.9,98.4 339.1,98.2 339.7,98.3 C340.3,98.4 340.7,98.7 341.2,99.8 C341.7,100.9 341.8,103.2 342.0,104.0 L342.0,104.0 L342.5,173.3 L342.5,174.0 C343.1,173.2 344.2,171.6 345.5,169.8 C346.8,168.0 347.6,166.9 349.0,165.0 C350.4,163.1 351.3,161.9 352.5,160.2 C353.7,158.5 354.4,157.4 355.2,156.3 C356.0,155.2 355.9,155.0 356.3,154.9 C356.7,154.8 356.9,155.0 357.2,156.0 C357.5,157.0 357.5,159.2 357.6,160.0 L357.6,160.0 L357.8,179.0 L357.8,179.0 C359.1,176.4 361.8,170.4 364.2,166.0 C366.6,161.6 367.5,160.7 370.0,157.0 C372.5,153.3 373.8,152.1 376.9,147.5 C380.0,142.9 383.1,138.5 385.7,134.2 C388.3,129.9 388.5,128.8 390.0,126.0 C391.5,123.2 392.1,122.3 393.2,120.3 C394.3,118.3 394.7,117.1 395.5,116.0 C396.3,114.9 396.5,114.7 397.0,114.8 C397.5,114.9 397.8,115.3 398.1,116.5 C398.4,117.7 398.4,120.1 398.5,121.0 L398.5,121.0 C398.6,125.6 398.4,139.2 398.8,143.8 C399.2,148.4 400.0,144.1 400.3,144.2 L400.3,144.4 C400.8,143.4 402.0,141.4 403.0,139.5 C404.0,137.6 404.1,137.2 405.1,134.8 C406.1,132.4 406.8,130.4 408.0,127.5 C409.2,124.6 409.9,122.9 411.1,120.3 C412.3,117.7 412.8,116.6 414.0,114.5 C415.2,112.4 416.0,111.3 417.2,109.8 C418.4,108.3 419.0,107.7 420.0,106.8 C421.0,105.9 421.3,105.7 422.3,105.2 C423.3,104.7 423.6,104.0 424.8,104.4 C426.0,104.8 427.0,105.2 428.4,107.2 C429.8,109.2 430.8,111.5 431.9,114.2 C433.0,116.9 433.2,118.1 434.0,120.5 C434.8,122.9 435.0,124.4 435.8,126.0 C436.6,127.6 437.0,127.8 437.8,128.5 C438.6,129.2 438.7,129.5 439.9,129.5 C441.1,129.5 442.0,129.3 443.7,128.6 C445.4,127.9 446.9,126.2 448.3,125.8 C449.7,125.4 449.8,125.8 450.5,126.5 C451.2,127.2 451.4,127.6 451.8,129.5 C452.2,131.4 452.2,134.7 452.3,136.0 L452.3,136.0 C452.3,141.0 452.0,155.6 452.5,161.2 C453.0,166.8 454.3,162.6 454.9,164.0 C455.5,165.4 455.2,166.5 455.6,168.0 C456.0,169.5 456.5,170.8 456.7,171.5 L456.7,171.5 C458.1,169.8 461.4,166.2 463.8,163.0 C466.2,159.8 466.9,157.8 468.8,155.3 C470.7,152.8 471.0,153.2 473.3,150.5 C475.6,147.8 478.5,144.0 480.4,142.0 C482.3,140.0 481.8,140.5 482.7,140.4 C483.6,140.3 483.9,141.3 485.1,141.3 C486.3,141.3 486.3,142.6 488.7,140.3 C491.1,138.0 494.6,133.0 496.9,130.0 C499.2,127.0 498.7,127.7 500.4,125.5 C502.1,123.3 502.6,122.7 505.2,119.0 C507.8,115.3 511.7,109.2 513.3,106.8 " fill="none" stroke="#dd1f27" stroke-width="1.6" stroke-linejoin="round" stroke-linecap="round"/>
</svg></body></html>
